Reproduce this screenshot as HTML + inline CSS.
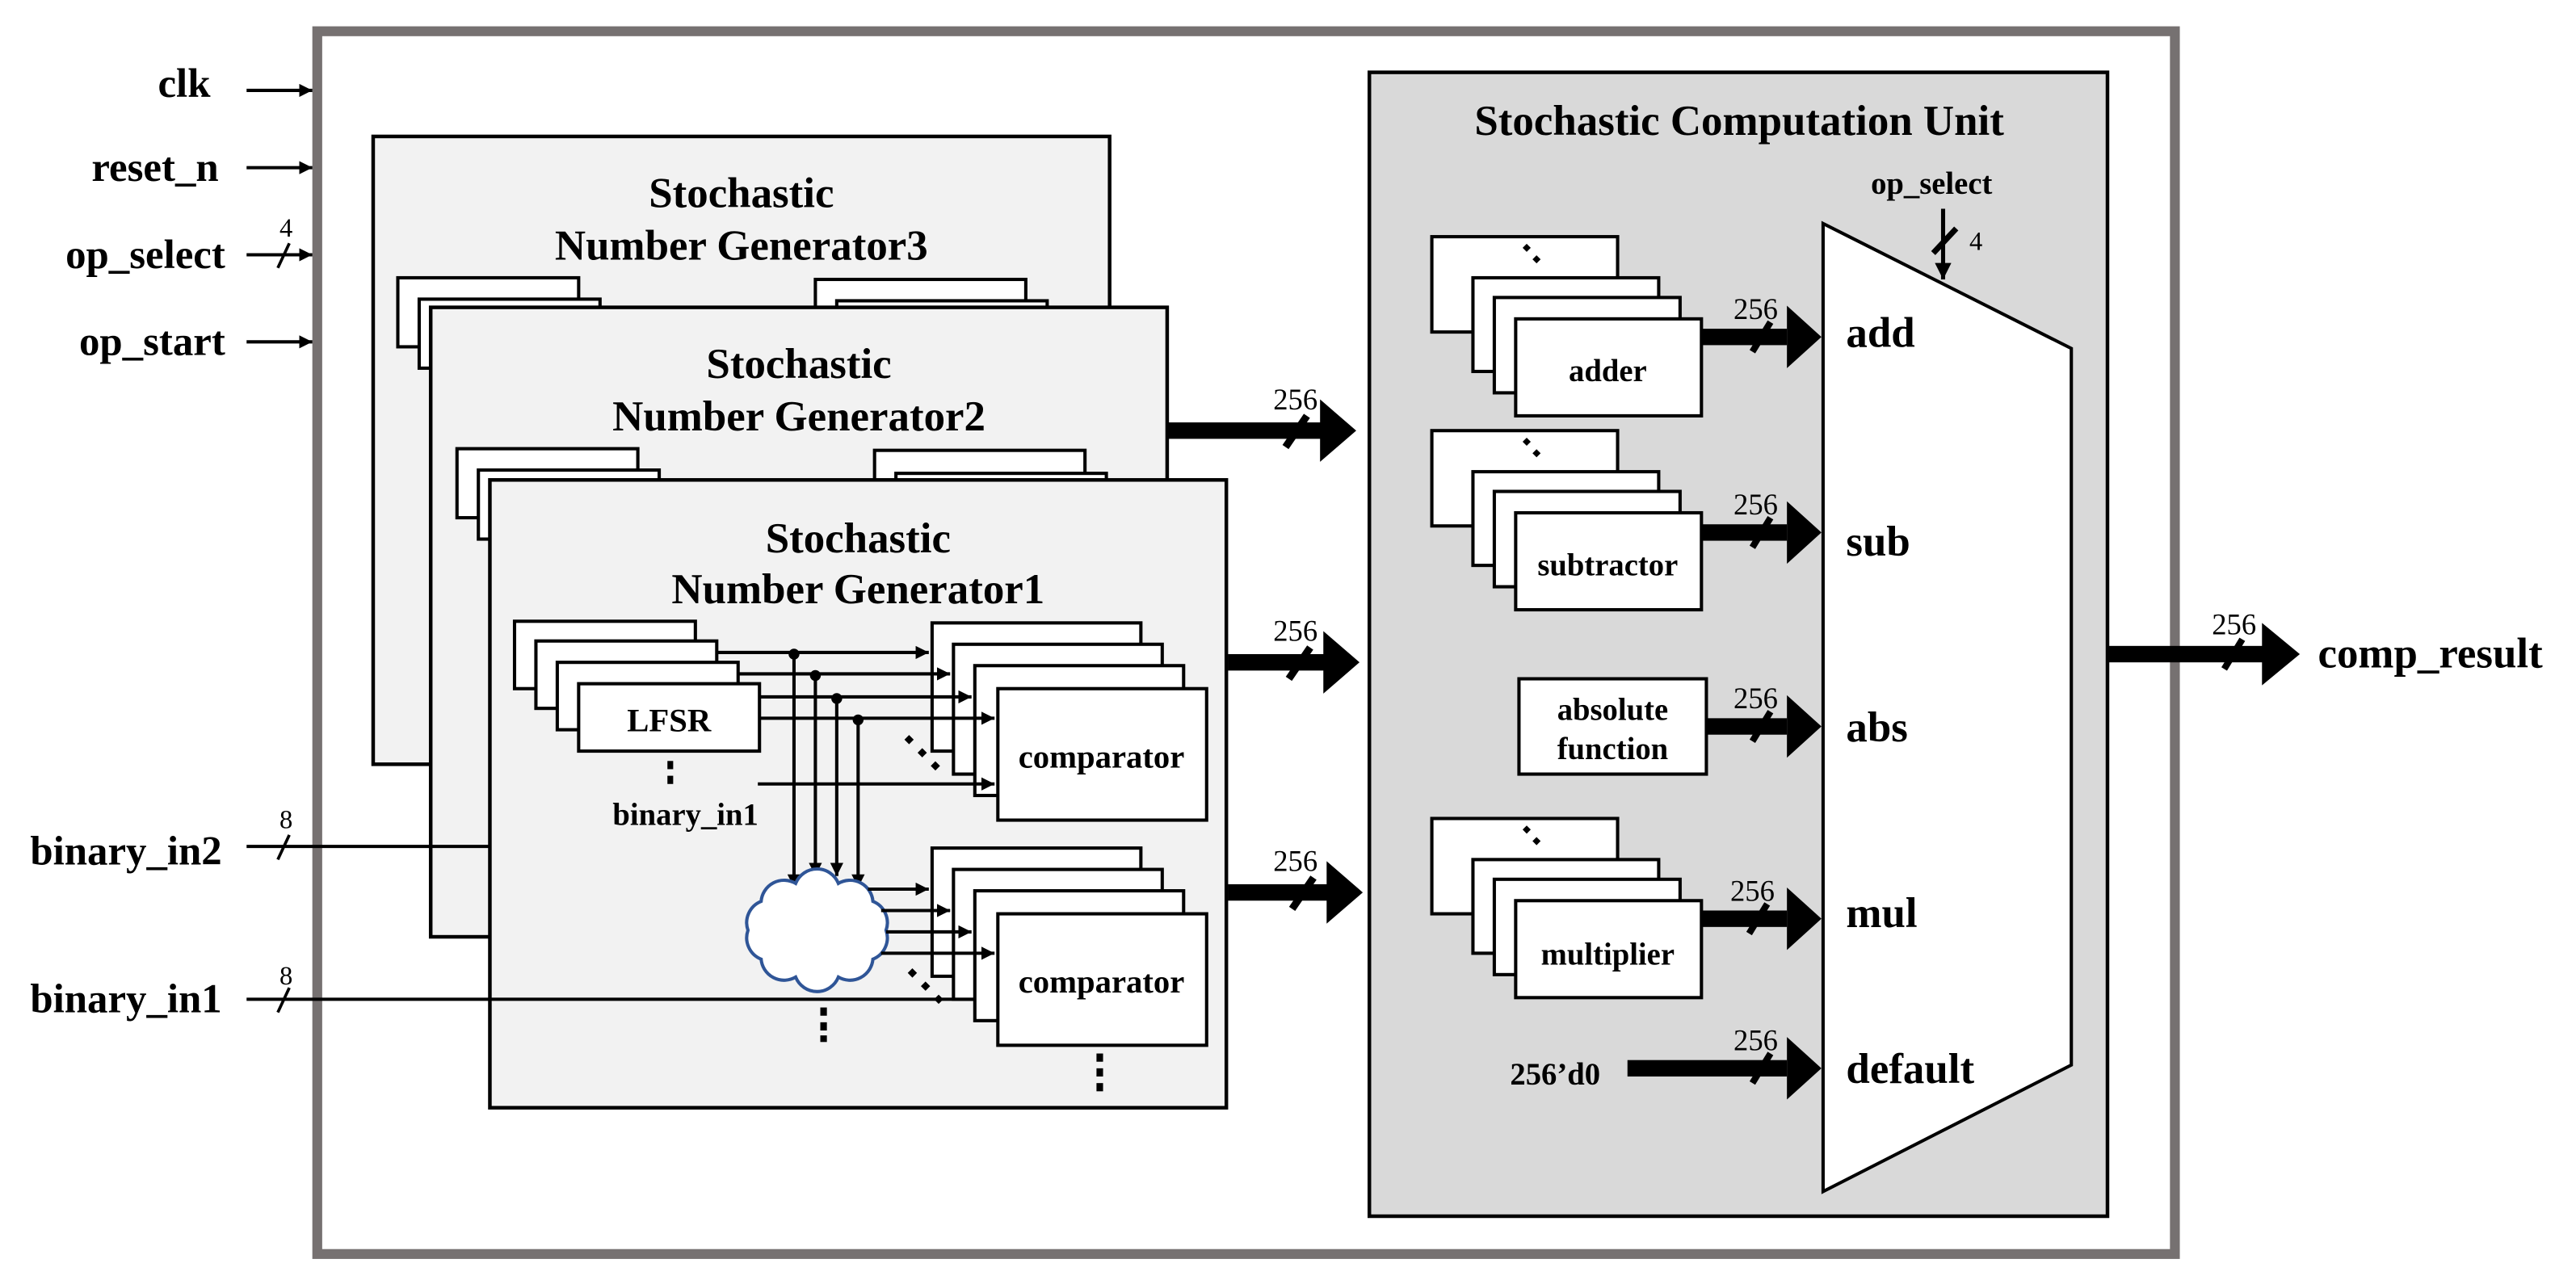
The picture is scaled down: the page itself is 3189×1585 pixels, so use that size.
<!DOCTYPE html>
<html><head><meta charset="utf-8"><style>
html,body{margin:0;padding:0;background:#fff;}
svg{display:block;}
text{font-family:"Liberation Serif",serif;font-weight:bold;fill:#000;}
.n{font-weight:normal;}
</style></head><body>
<svg width="3189" height="1585" viewBox="0 0 1567 778.8" xmlns="http://www.w3.org/2000/svg">
<defs>
<marker id="ah" viewBox="0 0 10 10" refX="10" refY="5" markerWidth="4" markerHeight="4" markerUnits="strokeWidth" orient="auto"><path d="M0,0 L10,5 L0,10 z" fill="#000"/></marker>
</defs>
<rect width="1567" height="779" fill="#fff"/>
<rect x="193" y="19" width="1130" height="744" fill="#fff" stroke="#767171" stroke-width="6"/>

<g stroke="#000" stroke-width="2" fill="none" marker-end="url(#ah)">
<line x1="150" y1="55" x2="190" y2="55"/>
<line x1="150" y1="102" x2="190" y2="102"/>
<line x1="150" y1="155" x2="190" y2="155"/>
<line x1="150" y1="208" x2="190" y2="208"/>
</g>
<line x1="169" y1="163" x2="176" y2="148" stroke="#000" stroke-width="1.8"/>
<text class="n" x="174" y="144" font-size="16" text-anchor="middle">4</text>
<g font-size="25" text-anchor="end">
<text x="128" y="59">clk</text>
<text x="133" y="110">reset_n</text>
<text x="137" y="163">op_select</text>
<text x="137" y="216">op_start</text>
<text x="135" y="526">binary_in2</text>
<text x="135" y="616">binary_in1</text>
</g>

<rect x="227" y="83" width="448" height="382" fill="#f2f2f2" stroke="#000" stroke-width="2.2"/>
<text x="451" y="126" font-size="26" text-anchor="middle">Stochastic</text>
<text x="451" y="158" font-size="26" text-anchor="middle">Number Generator3</text>
<g fill="#fff" stroke="#000" stroke-width="2">
<rect x="242" y="169" width="110" height="42"/><rect x="255" y="182" width="110" height="42"/>
<rect x="496" y="170" width="128" height="40"/><rect x="509" y="183" width="128" height="40"/>
</g>
<rect x="262" y="187" width="448" height="383" fill="#f2f2f2" stroke="#000" stroke-width="2.2"/>
<text x="486" y="230" font-size="26" text-anchor="middle">Stochastic</text>
<text x="486" y="262" font-size="26" text-anchor="middle">Number Generator2</text>
<g fill="#fff" stroke="#000" stroke-width="2">
<rect x="278" y="273" width="110" height="42"/><rect x="291" y="286" width="110" height="42"/>
<rect x="532" y="274" width="128" height="40"/><rect x="545" y="288" width="128" height="40"/>
</g>
<rect x="298" y="292" width="448" height="382" fill="#f2f2f2" stroke="#000" stroke-width="2.2"/>
<text x="522" y="336" font-size="26" text-anchor="middle">Stochastic</text>
<text x="522" y="367" font-size="26" text-anchor="middle">Number Generator1</text>

<line x1="150" y1="515" x2="298" y2="515" stroke="#000" stroke-width="2"/>
<line x1="169" y1="523" x2="176" y2="508" stroke="#000" stroke-width="1.8"/>
<text class="n" x="174" y="504" font-size="16" text-anchor="middle">8</text>
<line x1="150" y1="608" x2="605" y2="608" stroke="#000" stroke-width="2" marker-end="url(#ah)"/>
<line x1="169" y1="616" x2="176" y2="601" stroke="#000" stroke-width="1.8"/>
<text class="n" x="174" y="599" font-size="16" text-anchor="middle">8</text>

<g fill="#fff" stroke="#000" stroke-width="2">
<rect x="313" y="378" width="110" height="41"/>
<rect x="326" y="390" width="110" height="41"/>
<rect x="339" y="403" width="110" height="41"/>
<rect x="352" y="416" width="110" height="41"/>
</g>
<text x="407" y="445" font-size="20" text-anchor="middle">LFSR</text>
<rect x="406" y="463" width="3.5" height="5" fill="#000"/><rect x="406" y="472" width="3.5" height="5" fill="#000"/>
<text x="417" y="502" font-size="19" text-anchor="middle">binary_in1</text>

<g fill="#fff" stroke="#000" stroke-width="2">
<rect x="567" y="379" width="127" height="78"/>
<rect x="580" y="392" width="127" height="79"/>
<rect x="593" y="405" width="127" height="79"/>
<rect x="607" y="419" width="127" height="80"/>
<rect x="567" y="516" width="127" height="78"/>
<rect x="580" y="529" width="127" height="79"/>
<rect x="593" y="542" width="127" height="79"/>
<rect x="607" y="556" width="127" height="80"/>
</g>
<text x="670" y="467" font-size="20" text-anchor="middle">comparator</text>
<text x="670" y="604" font-size="20" text-anchor="middle">comparator</text>

<g stroke="#000" stroke-width="2" fill="none" marker-end="url(#ah)">
<line x1="436" y1="397" x2="565" y2="397"/>
<line x1="449" y1="410" x2="578" y2="410"/>
<line x1="462" y1="424" x2="591" y2="424"/>
<line x1="462" y1="437" x2="605" y2="437"/>
<line x1="461" y1="477" x2="605" y2="477"/>
<line x1="483" y1="397" x2="483" y2="540"/>
<line x1="496" y1="410" x2="496" y2="533"/>
<line x1="509" y1="424" x2="509" y2="533"/>
<line x1="522" y1="437" x2="522" y2="540"/>
</g>
<g fill="#000"><circle cx="483" cy="398" r="3.3"/><circle cx="496" cy="411" r="3.3"/><circle cx="509" cy="425" r="3.3"/><circle cx="522" cy="438" r="3.3"/></g>

<path d="M539,566 A14,14 0 0 1 531,583.6 A14,14 0 0 1 510,594.5 A14,14 0 0 1 484,594.5 A14,14 0 0 1 463,583.6 A14,14 0 0 1 455,566 A14,14 0 0 1 463,548.4 A14,14 0 0 1 484,537.5 A14,14 0 0 1 510,537.5 A14,14 0 0 1 531,548.4 A14,14 0 0 1 539,566 Z" fill="#fff" stroke="#2f5597" stroke-width="2"/>
<g stroke="#000" stroke-width="2" fill="none" marker-end="url(#ah)">
<line x1="528" y1="541" x2="565" y2="541"/>
<line x1="536" y1="554" x2="578" y2="554"/>
<line x1="539" y1="567" x2="591" y2="567"/>
<line x1="536" y1="580" x2="605" y2="580"/>
</g>
<g fill="#000">
<rect x="551" y="448" width="4" height="4" transform="rotate(45 553 450)"/>
<rect x="559" y="456" width="4" height="4" transform="rotate(45 561 458)"/>
<rect x="567" y="464" width="4" height="4" transform="rotate(45 569 466)"/>
<rect x="553" y="590" width="4" height="4" transform="rotate(45 555 592)"/>
<rect x="561" y="598" width="4" height="4" transform="rotate(45 563 600)"/>
<rect x="569" y="606" width="4" height="4" transform="rotate(45 571 608)"/>
<rect x="499" y="613" width="4" height="5"/><rect x="499" y="622" width="4" height="5"/><rect x="499" y="630" width="4" height="4"/>
<rect x="667" y="641" width="4" height="5"/><rect x="667" y="650" width="4" height="5"/><rect x="667" y="659" width="4" height="5"/>
</g>

<g fill="#000">
<rect x="711" y="257" width="94" height="10"/><polygon points="803,243 825,262 803,281"/>
<rect x="747" y="398" width="60" height="10"/><polygon points="805,384 827,403 805,422"/>
<rect x="747" y="538" width="62" height="10"/><polygon points="807,524 829,543 807,562"/>
</g>
<g stroke="#000" stroke-width="4.5">
<line x1="795" y1="253" x2="782" y2="272"/>
<line x1="797" y1="394" x2="784" y2="413"/>
<line x1="799" y1="534" x2="786" y2="553"/>
</g>
<g font-size="18" text-anchor="middle">
<text class="n" x="788" y="249">256</text>
<text class="n" x="788" y="390">256</text>
<text class="n" x="788" y="530">256</text>
</g>

<rect x="833" y="44" width="449" height="696" fill="#d9d9d9" stroke="#000" stroke-width="2.2"/>
<text x="1058" y="82" font-size="26" text-anchor="middle">Stochastic Computation Unit</text>

<g fill="#fff" stroke="#000" stroke-width="2">
<rect x="871" y="144" width="113" height="58"/>
<rect x="896" y="169" width="113" height="57"/>
<rect x="909" y="181" width="113" height="58"/>
<rect x="922" y="194" width="113" height="59"/>
<rect x="871" y="262" width="113" height="58"/>
<rect x="896" y="287" width="113" height="57"/>
<rect x="909" y="299" width="113" height="58"/>
<rect x="922" y="312" width="113" height="59"/>
<rect x="924" y="413" width="114" height="58"/>
<rect x="871" y="498" width="113" height="58"/>
<rect x="896" y="523" width="113" height="57"/>
<rect x="909" y="535" width="113" height="58"/>
<rect x="922" y="548" width="113" height="59"/>
</g>
<g fill="#000">
<rect x="927" y="149" width="3.5" height="3.5" transform="rotate(45 928.7 150.7)"/>
<rect x="933" y="156" width="3.5" height="3.5" transform="rotate(45 934.7 157.7)"/>
<rect x="927" y="267" width="3.5" height="3.5" transform="rotate(45 928.7 268.7)"/>
<rect x="933" y="274" width="3.5" height="3.5" transform="rotate(45 934.7 275.7)"/>
<rect x="927" y="503" width="3.5" height="3.5" transform="rotate(45 928.7 504.7)"/>
<rect x="933" y="510" width="3.5" height="3.5" transform="rotate(45 934.7 511.7)"/>
</g>
<g font-size="19" text-anchor="middle">
<text x="978" y="232">adder</text>
<text x="978" y="350">subtractor</text>
<text x="981" y="438">absolute</text>
<text x="981" y="462">function</text>
<text x="978" y="587">multiplier</text>
<text x="946" y="660">256’d0</text>
</g>

<polygon points="1109,136 1260,212 1260,648 1109,725" fill="#fff" stroke="#000" stroke-width="2"/>
<text x="1175" y="118" font-size="19" text-anchor="middle">op_select</text>
<line x1="1182" y1="127" x2="1182" y2="170" stroke="#000" stroke-width="2.5" marker-end="url(#ah)"/>
<line x1="1176" y1="154" x2="1190" y2="139" stroke="#000" stroke-width="3.5"/>
<text class="n" x="1202" y="152" font-size="16" text-anchor="middle">4</text>
<g font-size="26">
<text x="1123" y="211">add</text>
<text x="1123" y="338">sub</text>
<text x="1123" y="451">abs</text>
<text x="1123" y="564">mul</text>
<text x="1123" y="659">default</text>
</g>

<g fill="#000">
<rect x="1035" y="200" width="52" height="10"/><polygon points="1087,186 1108,205 1087,224"/>
<rect x="1035" y="319" width="52" height="10"/><polygon points="1087,305 1108,324 1087,343"/>
<rect x="1038" y="437" width="49" height="10"/><polygon points="1087,423 1108,442 1087,461"/>
<rect x="1035" y="554" width="52" height="10"/><polygon points="1087,540 1108,559 1087,578"/>
<rect x="990" y="645" width="97" height="10"/><polygon points="1087,631 1108,650 1087,669"/>
<rect x="1282" y="393" width="95" height="10"/><polygon points="1376,379 1399,398 1376,417"/>
</g>
<g stroke="#000" stroke-width="4">
<line x1="1077" y1="196" x2="1066" y2="214"/>
<line x1="1077" y1="315" x2="1066" y2="333"/>
<line x1="1077" y1="433" x2="1066" y2="451"/>
<line x1="1075" y1="550" x2="1064" y2="568"/>
<line x1="1077" y1="641" x2="1066" y2="659"/>
<line x1="1364" y1="389" x2="1353" y2="407"/>
</g>
<g font-size="18" text-anchor="middle">
<text class="n" x="1068" y="194">256</text>
<text class="n" x="1068" y="313">256</text>
<text class="n" x="1068" y="431">256</text>
<text class="n" x="1066" y="548">256</text>
<text class="n" x="1068" y="639">256</text>
<text class="n" x="1359" y="386">256</text>
</g>
<text x="1410" y="406" font-size="26">comp_result</text>
</svg>
</body></html>
